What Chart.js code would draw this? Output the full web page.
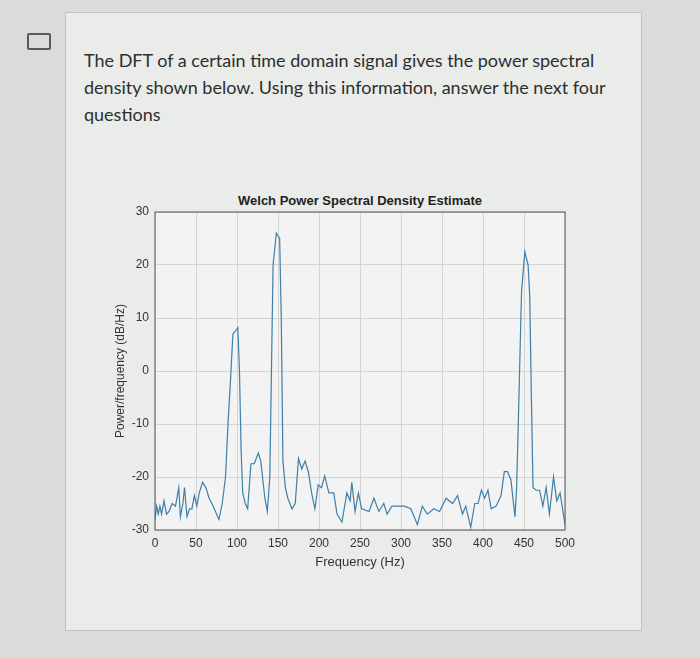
<!DOCTYPE html>
<html><head><meta charset="utf-8">
<script src="https://cdn.jsdelivr.net/npm/chart.js@4"></script>
<style>
body{margin:0;width:700px;height:658px;background:#d9dcda;position:relative;font-family:"Lato","Open Sans",sans-serif;overflow:hidden}
#card{position:absolute;left:65px;top:12px;width:575px;height:617px;background:#eaecea;border:1px solid #bfc3c1}
#q{position:absolute;left:84px;top:47px;width:540px;font-size:18px;line-height:27px;color:#2e2e2e}
#icon{position:absolute;left:27px;top:33px;width:20px;height:13px;border:2px solid #5a5a5a;border-radius:2px}
#ttl{position:absolute;left:155px;top:193px;width:410px;text-align:center;font:bold 13px "Liberation Sans",Arial,sans-serif;color:#222}
#wrap{position:absolute;left:95px;top:185px;width:495px;height:400px}
</style></head><body>
<div id="icon"></div>
<div id="card"></div>
<div id="q">The DFT of a certain time domain signal gives the power spectral density shown below. Using this information, answer the next four questions</div>
<div id="ttl">Welch Power Spectral Density Estimate</div>
<div id="wrap"><canvas id="c" width="495" height="400"></canvas></div>
<script>
const freqHz=[0,2,4,6,8,11,14,17,21,25,29,31,34,36,39,42,45,48,51,54,58,62,66,71,75,78,82,86,89,92,95,98,101,103,105,107,110,113,117,121,126,129,134,137,140,142,144,148,152,154,156,159,162,167,171,175,179,183,187,191,195,199,203,207,212,218,222,228,234,238,240,244,248,252,261,267,273,279,283,289,295,304,312,320,326,332,340,347,355,363,369,375,379,385,390,394,398,402,406,410,416,422,426,430,434,439,441,443,447,451,455,457,459,461,465,469,473,477,481,486,490,494,500];
const psdDb=[-28,-25.5,-27,-25.5,-27,-24.5,-27,-26.5,-25,-25.5,-22,-27.5,-25,-22,-27.5,-26,-26,-23.5,-25.5,-23,-21,-22,-24,-25.5,-27,-28,-25,-20,-10,-2,7,7.5,8.2,0,-15,-23,-25,-26,-17.5,-17.5,-15.5,-17,-24,-26.5,-20,0,20,26,25,10,-17,-22,-24,-26,-25,-16.5,-18.5,-17,-19,-23,-26,-21.5,-22,-19.8,-23,-23,-27,-28.5,-23,-24.5,-21,-26.5,-23,-26,-26.5,-24,-26.5,-25,-27,-25.5,-25.5,-25.5,-26,-29,-25.5,-27,-26,-26.5,-24,-25,-23.5,-27,-25.5,-29.5,-25,-25,-22.5,-24,-22.5,-26,-25.5,-23.5,-19,-19,-20.5,-27.5,-22,-10,15,22.5,20,14,-5,-22,-22.5,-22.5,-25.5,-22,-27,-20,-24.5,-23,-29];
const xTicks=[0,50,100,150,200,250,300,350,400,450,500];
const yTicks=[-30,-20,-10,0,10,20,30];
const pts=freqHz.map((f,i)=>({x:f,y:psdDb[i]}));
const F='"Liberation Sans", Arial, sans-serif';
const framePlugin={id:'frame',afterDraw(ch){const a=ch.chartArea,c=ch.ctx;c.save();c.strokeStyle='#555';c.lineWidth=1;c.strokeRect(a.left,a.top,a.right-a.left,a.bottom-a.top);c.restore();},
 beforeDraw(ch){const a=ch.chartArea,c=ch.ctx;c.save();c.fillStyle='#f2f3f2';c.fillRect(a.left,a.top,a.right-a.left,a.bottom-a.top);c.restore();}};
new Chart(document.getElementById('c'),{type:'line',
 data:{datasets:[{data:pts,borderColor:'#3f7fa8',borderWidth:1.2,pointRadius:0,tension:0}]},
 options:{responsive:false,animation:false,layout:{padding:{top:27,right:25,left:14,bottom:15}},
  plugins:{legend:{display:false},tooltip:{enabled:false}},
  scales:{
   x:{type:'linear',min:0,max:500,afterFit(s){s.height=40;},afterBuildTicks(s){s.ticks=xTicks.map(v=>({value:v}));},
    grid:{color:'#d2d4d3',drawTicks:false},border:{display:false},
    ticks:{color:'#333',font:{family:F,size:12},padding:6,maxRotation:0},
    title:{display:true,text:'Frequency (Hz)',color:'#333',font:{family:F,size:13},padding:{top:0,bottom:0}}},
   y:{min:-30,max:30,afterFit(s){s.width=46;},afterBuildTicks(s){s.ticks=yTicks.map(v=>({value:v}));},
    grid:{color:'#d2d4d3',drawTicks:false},border:{display:false},
    ticks:{color:'#333',font:{family:F,size:12},padding:6},
    title:{display:true,text:'Power/frequency (dB/Hz)',color:'#333',font:{family:F,size:12},padding:{bottom:2}}}
  }},plugins:[framePlugin]});
</script></body></html>
